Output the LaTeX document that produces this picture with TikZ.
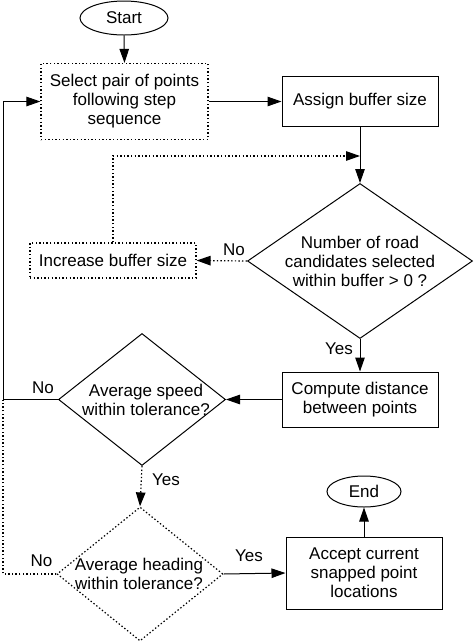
\documentclass[tikz,border=0pt]{standalone}
\usepackage{fontspec}
\setmainfont{Liberation Sans}
\usetikzlibrary{arrows.meta,shapes.geometric}

\tikzset{
  flowline/.style={line width=1pt},
  dotline/.style={line width=1.2pt,dash pattern=on 1.4pt off 2.2pt},
  procbox/.style={draw,flowline,rectangle,align=center,inner sep=0pt},
  dotbox/.style={draw,dotline,rectangle,align=center,inner sep=0pt},
  termnode/.style={draw,flowline,ellipse,inner sep=0pt},
  decnode/.style={draw,diamond,inner sep=0pt},
  plaintext/.style={align=center,inner sep=0pt}
}

\begin{document}
\begin{tikzpicture}[x=1pt,y=-1pt,>={Triangle[length=14pt,width=9.5pt]},every node/.style={font=\fontsize{17pt}{19pt}\selectfont}]
\useasboundingbox (0,0) rectangle (474,641);
% terminals and process boxes
\node[termnode,minimum width=88pt,minimum height=34pt] (start) at (124,18) {Start};
\node[dotbox,minimum width=167pt,minimum height=76pt] (select) at (124.5,101.5) {Select pair of points\\following step\\sequence};
\node[procbox,minimum width=156pt,minimum height=50pt] (assign) at (360,101.5) {Assign buffer size};
\node[dotbox,minimum width=166pt,minimum height=35pt] (increase) at (113,260.5) {Increase buffer size};
\node[procbox,minimum width=156pt,minimum height=55pt] (compute) at (360,399.5) {Compute distance\\between points};
\node[procbox,minimum width=156pt,minimum height=72pt] (accept) at (364,573) {Accept current\\snapped point\\locations};
\node[termnode,minimum width=74pt,minimum height=31pt] (end) at (364,491.5) {End};
% decisions
\node[decnode,flowline,minimum width=225pt,minimum height=155pt] (road) at (360,261) {};
\node[plaintext] (roadtext) at (360,261) {Number of road\\candidates selected\\within buffer > 0 ?};
\node[decnode,flowline,minimum width=167pt,minimum height=132pt] (speed) at (142,399.5) {};
\node[plaintext] (speedtext) at (146,399.5) {Average speed\\within tolerance?};
\node[decnode,dotline,minimum width=166pt,minimum height=134pt] (heading) at (140,574) {};
\node[plaintext] (headingtext) at (139,573.5) {Average heading\\within tolerance?};
% branch labels
\node[plaintext] (noroad) at (234,250) {No};
\node[plaintext] (yesroad) at (339,349) {Yes};
\node[plaintext] (nospeed) at (43,388) {No};
\node[plaintext] (yesspeed) at (166,480) {Yes};
\node[plaintext] (noheading) at (41.5,561) {No};
\node[plaintext] (yesheading) at (249,556) {Yes};
% joints
\coordinate (merge) at (360,156);
\coordinate (loopturn) at (3,399.5);
% connectors
\draw[flowline,->] (start.south) -- (select.north);
\draw[flowline,->] (select.east) -- (assign.west);
\draw[flowline,->] (assign.south) -- (road.north);
\draw[dotline,->] (road.west) -- (increase.east);
\draw[dotline,->] (increase.north) |- (merge);
\draw[flowline,->] (road.south) -- (compute.north);
\draw[flowline,->] (compute.west) -- (speed.east);
\draw[flowline,->] (speed.west) -- (loopturn) |- (select.west);
\draw[dotline,->] (speed.south) -- (heading.north);
\draw[dotline] (heading.west) -| (loopturn);
\draw[flowline,->] (heading.east) -- (accept.west);
\draw[flowline,->] (accept.north) -- (end.south);
\end{tikzpicture}
\end{document}
